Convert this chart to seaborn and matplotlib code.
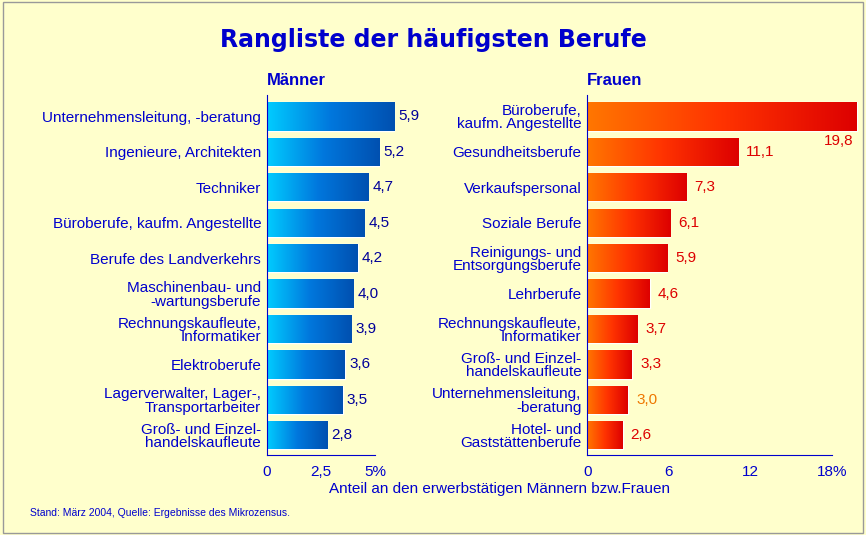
import numpy as np
import seaborn as sns
import matplotlib.pyplot as plt
from matplotlib.colors import LinearSegmentedColormap

sns.set_style("white")
plt.rcParams['font.family'] = ['Liberation Sans', 'DejaVu Sans']

men_jobs = ['Unternehmensleitung, -beratung', 'Ingenieure, Architekten', 'Techniker',
            'Büroberufe, kaufm. Angestellte', 'Berufe des Landverkehrs',
            'Maschinenbau- und\n-wartungsberufe', 'Rechnungskaufleute,\nInformatiker',
            'Elektroberufe', 'Lagerverwalter, Lager-,\nTransportarbeiter',
            'Groß- und Einzel-\nhandelskaufleute']
men_vals = [5.9, 5.2, 4.7, 4.5, 4.2, 4.0, 3.9, 3.6, 3.5, 2.8]
women_jobs = ['Büroberufe,\nkaufm. Angestellte', 'Gesundheitsberufe', 'Verkaufspersonal',
              'Soziale Berufe', 'Reinigungs- und\nEntsorgungsberufe', 'Lehrberufe',
              'Rechnungskaufleute,\nInformatiker', 'Groß- und Einzel-\nhandelskaufleute',
              'Unternehmensleitung,\n-beratung', 'Hotel- und\nGaststättenberufe']
women_vals = [19.8, 11.1, 7.3, 6.1, 5.9, 4.6, 3.7, 3.3, 3.0, 2.6]

BG = '#FFFFCC'
BLUE = '#0000CC'
RED = '#DD0000'
cm_m = LinearSegmentedColormap.from_list('m', ['#00CCFF', '#0077DD', '#0050B0'])
cm_w = LinearSegmentedColormap.from_list('w', ['#FF7700', '#FF3300', '#DD0000'])

fig = plt.figure(figsize=(8.66, 5.35), dpi=100, facecolor=BG)
fig.patches.append(plt.Rectangle((0.003, 0.003), 0.994, 0.994, transform=fig.transFigure,
                                 fill=False, edgecolor='#999999', lw=1))
fig.text(0.5, 0.925, 'Rangliste der häufigsten Berufe', ha='center', va='center',
         fontsize=17, fontweight='bold', color=BLUE, family='DejaVu Sans')

grad = np.linspace(0, 1, 256).reshape(1, -1)


def draw(ax, jobs, vals, cmap, xmax, ticks, ticklabels, heading):
    ax.set_facecolor(BG)
    y = np.arange(len(vals))
    bars = ax.barh(y, vals, height=0.8, color='none')
    for b, v in zip(bars, vals):
        im = ax.imshow(grad, extent=[0, v, b.get_y(), b.get_y() + b.get_height()],
                       aspect='auto', cmap=cmap, zorder=2)
        im.set_clip_path(b)
    ax.set_xlim(0, xmax)
    ax.set_ylim(len(vals) - 0.45, -0.6)
    ax.set_yticks(y)
    ax.set_yticklabels(jobs, color=BLUE, fontsize=11, linespacing=0.95)
    ax.set_xticks(ticks)
    ax.set_xticklabels(ticklabels, color=BLUE, fontsize=11)
    for s in ['top', 'right']:
        ax.spines[s].set_visible(False)
    for s in ['left', 'bottom']:
        ax.spines[s].set_color(BLUE)
    ax.spines['bottom'].set_bounds(0, ticks[-1])
    ax.tick_params(axis='x', colors=BLUE, length=4, direction='out')
    ax.tick_params(axis='y', length=0, pad=4)
    ax.text(0, -0.8, heading, fontsize=12, fontweight='bold', color=BLUE, va='bottom')
    return y


ax1 = fig.add_axes([0.308, 0.15, 0.155, 0.672])
y = draw(ax1, men_jobs, men_vals, cm_m, 6.2, [0, 2.5, 5], ['0', '2,5', '5%'], 'Männer')
for yi, v in zip(y, men_vals):
    ax1.text(v + 0.2, yi, f'{v:.1f}'.replace('.', ','), va='center', color='#000099', fontsize=11)

ax2 = fig.add_axes([0.678, 0.15, 0.33, 0.672])
y = draw(ax2, women_jobs, women_vals, cm_w, 21, [0, 6, 12, 18], ['0', '6', '12', '18%'], 'Frauen')
for yi, v in zip(y, women_vals):
    col = '#EE7700' if v == 3.0 else RED
    lab = f'{v:.1f}'.replace('.', ',')
    if v > 18:
        ax2.text(v - 1.3, yi + 0.7, lab, va='center', ha='center', color=col, fontsize=11)
    else:
        ax2.text(v + 0.6, yi, lab, va='center', color=col, fontsize=11)

fig.text(0.577, 0.078, 'Anteil an den erwerbstätigen Männern bzw.Frauen', ha='center',
         color=BLUE, fontsize=11)
fig.text(0.035, 0.035, 'Stand: März 2004, Quelle: Ergebnisse des Mikrozensus.',
         color=BLUE, fontsize=7.5)

fig.savefig('out.png', dpi=100, facecolor=BG)
